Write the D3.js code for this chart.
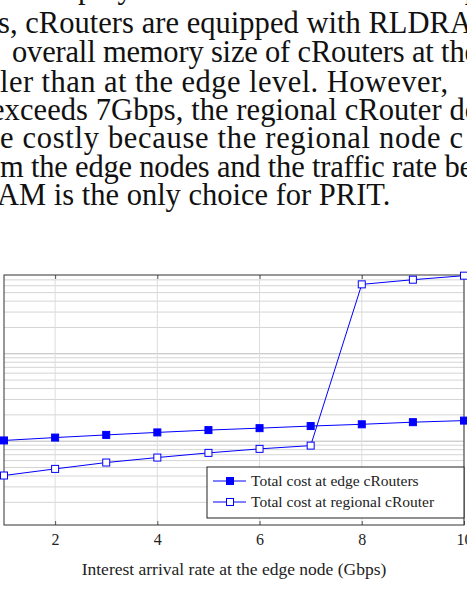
<!DOCTYPE html>
<html><head><meta charset="utf-8">
<script src="https://cdn.jsdelivr.net/npm/d3@7"></script>
<style>body{margin:0;background:#fff}svg{display:block}</style>
</head><body>
<svg id="c" width="467" height="607"></svg>
<script>
// data (y is log scale, units unknown, decades at 10 and 100)
const rates = [1, 2, 3, 4, 5, 6, 7, 8, 9, 10];
const edgeCost = [10.2, 11.0, 11.8, 12.6, 13.4, 14.1, 14.9, 15.6, 16.5, 17.2];
const regionalCost = [4.05, 4.82, 5.7, 6.5, 7.35, 8.17, 8.9, 622, 703, 782];
const xTicks = [2, 4, 6, 8, 10];
const seriesNames = ["Total cost at edge cRouters", "Total cost at regional cRouter"];

const paraLines = [
  ["to be deployed in the cRouters at the top", -20, -2, 480],
  ["s, cRouters are equipped with RLDRA", -2, 33, 472],
  ["overall memory size of cRouters at the", 12, 62, 478],
  ["ler than at the edge level. However,", 0, 92, 448],
  ["exceeds 7Gbps, the regional cRouter do", -9, 120, 480],
  ["e costly because the regional node c", 0, 148, 463],
  ["m the edge nodes and the traffic rate be", 0, 177, 473],
  ["AM is the only choice for PRIT.", -3, 205, null]
];

const svg = d3.select("#c");
const serif = "'Liberation Serif','DejaVu Serif',serif";

paraLines.forEach(([t, x, y, end]) => {
  const el = svg.append("text").attr("x", x).attr("y", y)
    .attr("font-family", serif).attr("font-size", 30.5).attr("fill", "#111").text(t);
  if (end !== null) el.attr("textLength", end - x).attr("lengthAdjust", "spacing");
});

const L = 4, R = 464, T = 275, B = 525;
const x = d3.scaleLinear().domain([1, 10]).range([L, R]);
const y = d3.scaleLog().domain([1.1, 796]).range([B, T]);

// horizontal log grid
const gridVals = [];
[1, 10, 100].forEach(d => { for (let k = 1; k < 10; k++) { const v = d * k; if (v >= 1.1 && v <= 796) gridVals.push(v); } });
svg.append("g").selectAll("line").data(gridVals).join("line")
  .attr("x1", L).attr("x2", R).attr("y1", d => y(d)).attr("y2", d => y(d))
  .attr("stroke", d => (d === 10 || d === 100) ? "#bbb" : "#d4d4d4").attr("stroke-width", 1);
svg.append("g").selectAll("line").data(xTicks).join("line")
  .attr("x1", d => x(d)).attr("x2", d => x(d)).attr("y1", T).attr("y2", B)
  .attr("stroke", "#ddd");

// axes (ticks inward, top + bottom)
const gx = svg.append("g").attr("transform", `translate(0,${B})`)
  .call(d3.axisBottom(x).tickValues(xTicks).tickSize(-4).tickPadding(9).tickFormat(d3.format("d")));
gx.select(".domain").remove();
gx.selectAll("text").attr("font-family", serif).attr("font-size", 16).attr("fill", "#222");
gx.selectAll("line").attr("stroke", "#555");
svg.append("g").attr("transform", `translate(0,${T})`)
  .call(d3.axisTop(x).tickValues(xTicks).tickSize(-4).tickFormat(""))
  .call(g => g.select(".domain").remove()).selectAll("line").attr("stroke", "#555");
svg.append("rect").attr("x", L).attr("y", T).attr("width", R - L).attr("height", B - T)
  .attr("fill", "none").attr("stroke", "#333").attr("stroke-width", 1);

svg.append("text").attr("x", 234).attr("y", 575).attr("text-anchor", "middle")
  .attr("font-family", serif).attr("font-size", 17.5).attr("fill", "#222")
  .text("Interest arrival rate at the edge node (Gbps)");

const blue = "#0000ff";
const line = d3.line().x((d, i) => x(rates[i])).y(d => y(d));
const series = [[edgeCost, true], [regionalCost, false]];
series.forEach(([vals, filled]) => {
  svg.append("path").datum(vals).attr("d", line).attr("fill", "none").attr("stroke", blue).attr("stroke-width", 1);
  svg.append("g").selectAll("rect").data(vals).join("rect")
    .attr("x", (d, i) => x(rates[i]) - 3.5).attr("y", d => y(d) - 3.5)
    .attr("width", 7).attr("height", 7)
    .attr("fill", filled ? blue : "#fff").attr("stroke", blue).attr("stroke-width", 1);
});

// legend
const lg = svg.append("g");
lg.append("rect").attr("x", 207).attr("y", 467).attr("width", 257).attr("height", 51)
  .attr("fill", "#fff").attr("stroke", "#222");
seriesNames.forEach((name, i) => {
  const cy = 481 + i * 21, filled = i === 0;
  lg.append("line").attr("x1", 213).attr("x2", 246).attr("y1", cy).attr("y2", cy).attr("stroke", blue);
  lg.append("rect").attr("x", 226.5).attr("y", cy - 3.5).attr("width", 7).attr("height", 7)
    .attr("fill", filled ? blue : "#fff").attr("stroke", blue);
  lg.append("text").attr("x", 251).attr("y", cy + 5).attr("font-family", serif).attr("font-size", 15.5)
    .attr("fill", "#222").text(name);
});
</script>
</body></html>
